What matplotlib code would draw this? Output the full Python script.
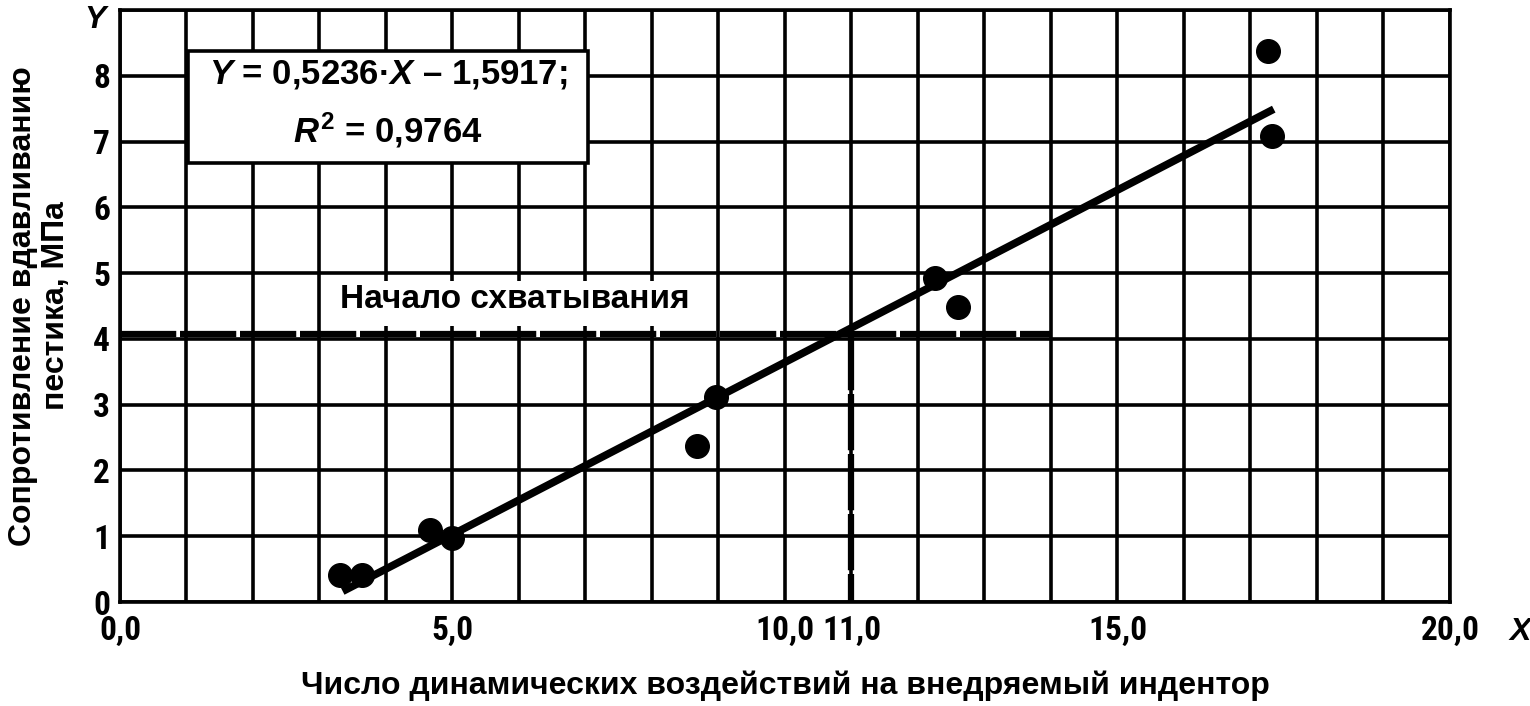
import numpy as np
import matplotlib
matplotlib.use("Agg")
from matplotlib import pyplot as plt
from matplotlib.patches import Rectangle

plt.rcParams["font.family"] = ["Liberation Sans", "DejaVu Sans"]
plt.rcParams["mathtext.fontset"] = "custom"
plt.rcParams["mathtext.rm"] = "Liberation Sans:bold"
plt.rcParams["mathtext.it"] = "Liberation Sans:italic:bold"
plt.rcParams["mathtext.bf"] = "Liberation Sans:bold"

# measured points
x_points = [3.31, 3.64, 4.66, 4.99, 8.68, 8.96, 12.26, 12.60, 17.26, 17.32]
y_points = [0.41, 0.41, 1.09, 0.97, 2.37, 3.11, 4.92, 4.48, 8.38, 7.09]

# regression Y = a*X + b drawn over the span of the data
slope = 0.5236
intercept = -1.5917
r_squared = 0.9764
fit_x_range = [3.35, 17.35]

# setting start level
setting_y = 4.08
setting_x = 11.0
setting_x_end = 14.0

x_tick_labels = {0: "0,0", 5: "5,0", 10: "10,0", 11: "11,0", 15: "15,0", 20: "20,0"}
y_tick_labels = ["0", "1", "2", "3", "4", "5", "6", "7", "8"]

tick_font = dict(family=["Roboto Condensed", "Liberation Sans"], weight="bold", size=24)
label_font = dict(weight="bold", size=23)

fig = plt.figure(figsize=(15.3, 7.06), dpi=100)
ax = fig.add_axes([0.0784, 0.1473, 0.8693, 0.8385])
ax.set_xlim(0, 20)
ax.set_ylim(0, 9)

lw_grid = 2.6
for xv in range(21):
	ax.axvline(xv, color="black", lw=lw_grid, zorder=1)
for yv in range(10):
	ax.axhline(yv, color="black", lw=lw_grid, zorder=1)
for sp in ax.spines.values():
	sp.set_linewidth(lw_grid)

ax.set_xticks(list(range(21)))
ax.set_xticklabels([x_tick_labels.get(i, "") for i in range(21)], **tick_font)
ax.set_yticks(list(range(len(y_tick_labels))))
ax.set_yticklabels(y_tick_labels, **tick_font)
ax.tick_params(length=0, pad=7)
ax.tick_params(axis="x", pad=9)

ax.text(-0.22, 8.85, "Y", fontsize=23, style="italic", weight="bold", ha="right", va="center")
ax.text(20.9, -0.46, "X", fontsize=23, style="italic", weight="bold", ha="left", va="center",
	clip_on=False)

ax.set_xlabel("Число динамических воздействий на внедряемый индентор", labelpad=17, **label_font)
ax.set_ylabel("Сопротивление вдавливанию\nпестика, МПа", labelpad=16, linespacing=1.12, **label_font)

# start of setting, dashed
ax.plot([0, setting_x_end], [setting_y, setting_y], color="black", lw=4.5,
	dashes=(9, 0.6), zorder=3, solid_capstyle="butt")
ax.plot([setting_x, setting_x], [setting_y, 0], color="black", lw=4.5,
	dashes=(9, 0.6), zorder=3, clip_on=False)

# trend line
fx = np.array(fit_x_range)
ax.plot(fx, slope * fx + intercept, color="black", lw=5.5, zorder=4, solid_capstyle="butt")

ax.plot(x_points, y_points, "o", color="black", ms=17, zorder=5)

# equation box
ax.add_patch(Rectangle((1.02, 6.68), 6.02, 1.69, facecolor="white", edgecolor="black",
	lw=lw_grid, zorder=6))
ax.text(4.03, 8.02, "$Y$ = 0,5236·$X$ – 1,5917;", fontsize=25, weight="bold",
	ha="center", va="center", zorder=7)
ax.text(4.03, 7.17, r"$R^{\mathrm{2}}$ = " + f"{r_squared}".replace(".", ","), fontsize=25,
	weight="bold", ha="center", va="center", zorder=7)

# label of setting start
ax.add_patch(Rectangle((3.05, 4.2), 5.65, 0.68, facecolor="white", edgecolor="none", zorder=2))
ax.text(5.94, 4.6, "Начало схватывания", ha="center", va="center", zorder=7,
	weight="bold", size=24)

fig.savefig("out.png", dpi=100)
